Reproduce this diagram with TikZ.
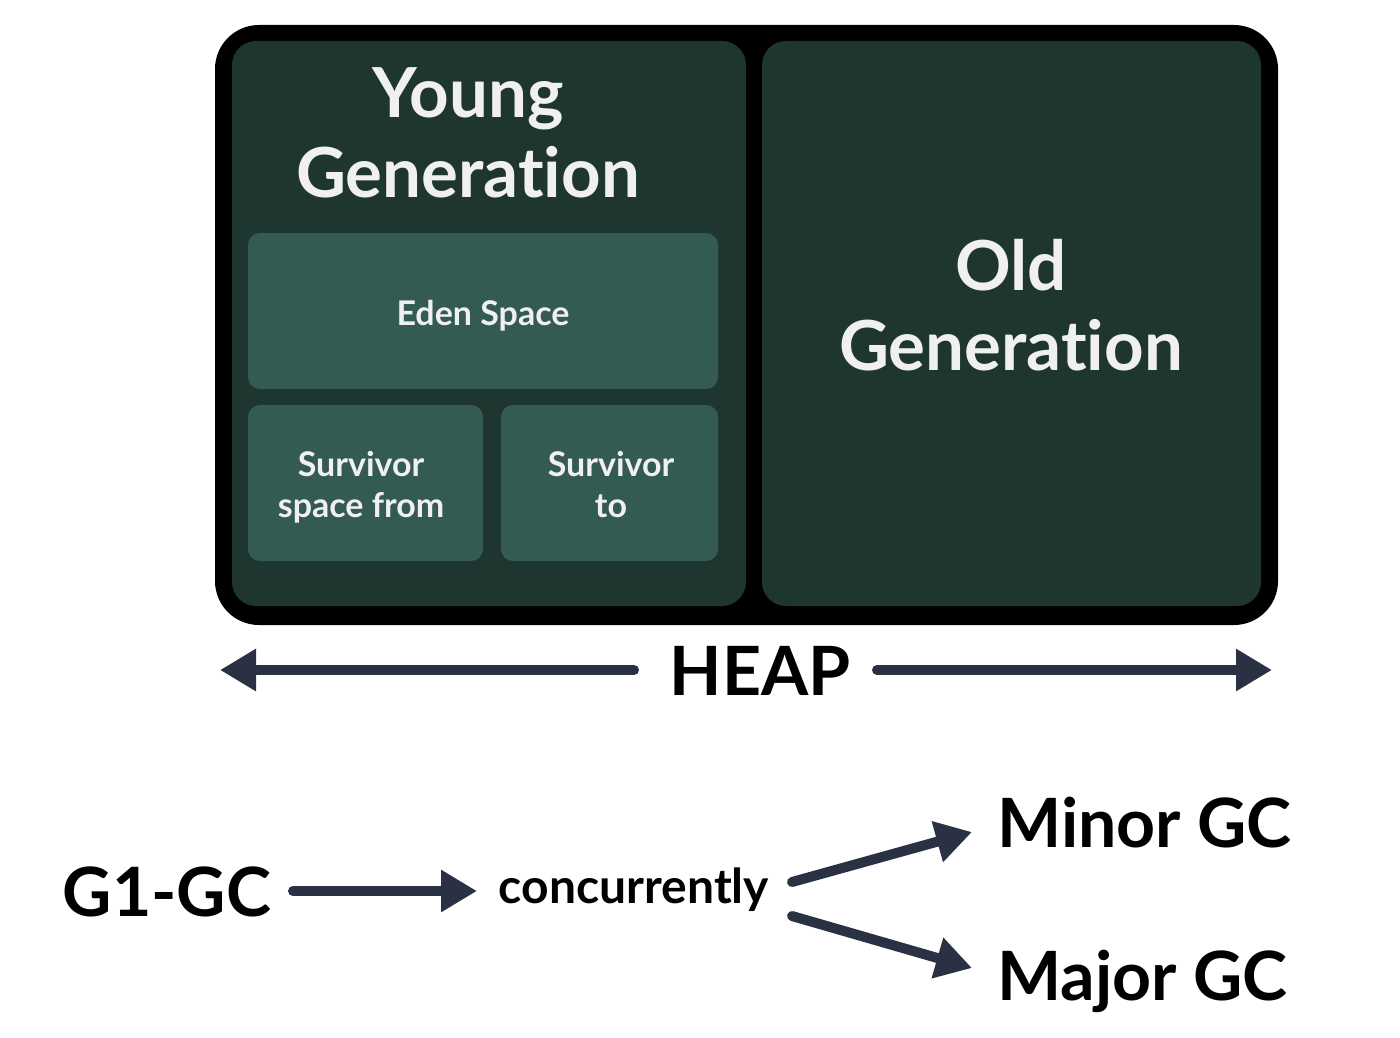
\documentclass[tikz,border=0pt]{standalone}
\usepackage{fontspec}
\setmainfont{Lato}[Ligatures=NoCommon]
\usetikzlibrary{arrows.meta}
\definecolor{panel}{HTML}{1F3630}
\definecolor{cell}{HTML}{335B51}
\definecolor{ink}{HTML}{F0F0F0}
\definecolor{arr}{HTML}{293142}
\tikzset{
  panelbox/.style={fill=panel, rounded corners=24pt, inner sep=0pt},
  cellbox/.style={fill=cell, rounded corners=12pt, inner sep=0pt},
  celltext/.style={text=ink, align=center, inner sep=0pt, anchor=base, font=\fontsize{34}{41}\selectfont\bfseries},
  bigtitle/.style={text=ink, align=center, inner sep=0pt, anchor=base, font=\fontsize{69}{80}\selectfont\bfseries},
  blacktext/.style={text=black, inner sep=0pt, anchor=base, font=\fontsize{68}{80}\selectfont\bfseries},
  conn/.style={draw=arr, line width=10pt, line cap=round, -{Triangle[length=36pt,width=40pt]}},
}
\begin{document}
\begin{tikzpicture}[x=1pt,y=-1pt]
\useasboundingbox (0,0) rectangle (1400,1038);
\fill[white] (0,0) rectangle (1400,1038);
% outer heap
\node[fill=black, rounded corners=44pt, minimum width=1063pt, minimum height=600pt, inner sep=0pt] (heap) at (746.5,325) {};
\node[panelbox, minimum width=514pt, minimum height=565pt] (young) at (489,323.5) {};
\node[panelbox, minimum width=499pt, minimum height=565pt] (old) at (1011.5,323.5) {};
% titles
\node[bigtitle] (ytitle) at (468,197) {Young\\Generation};
\node[bigtitle] (otitle) at (1011,370) {Old\\Generation};
% cells
\node[cellbox, minimum width=470pt, minimum height=156pt] (eden) at (483,311) {};
\node[cellbox, minimum width=235pt, minimum height=156pt] (sfrom) at (365.5,483) {};
\node[cellbox, minimum width=217pt, minimum height=156pt] (sto) at (609.5,483) {};
\node[celltext] (edent) at (483,325) {Eden Space};
\node[celltext] (sfromt) at (361,517) {Survivor\\space from};
\node[celltext] (stot) at (611,517) {Survivor\\to};
% heap label
\node[blacktext] (heaplbl) at (760,695) {HEAP};
\coordinate (hl) at (220,670);
\coordinate (hr) at (1272,670);
\coordinate (hls) at (634,670);
\coordinate (hrs) at (877,670);
\draw[conn] (hls) -- (hl);
\draw[conn] (hrs) -- (hr);
% GC
\node[blacktext] (g1) at (167,916) {G1-GC};
\node[text=black, inner sep=0pt, anchor=base, font=\fontsize{48}{50}\selectfont\bfseries] (conc) at (634,903) {concurrently};
\node[blacktext, anchor=base west] (minor) at (997,847) {Minor GC};
\node[blacktext, anchor=base west] (major) at (997,1000) {Major GC};
\coordinate (a1s) at (293,891);
\coordinate (a1e) at (477,891);
\draw[conn] (a1s) -- (a1e);
\coordinate (a2s) at (792,882);
\coordinate (a2e) at (972,832);
\draw[conn] (a2s) -- (a2e);
\coordinate (a3s) at (792,916);
\coordinate (a3e) at (972,968);
\draw[conn] (a3s) -- (a3e);
\end{tikzpicture}
\end{document}
